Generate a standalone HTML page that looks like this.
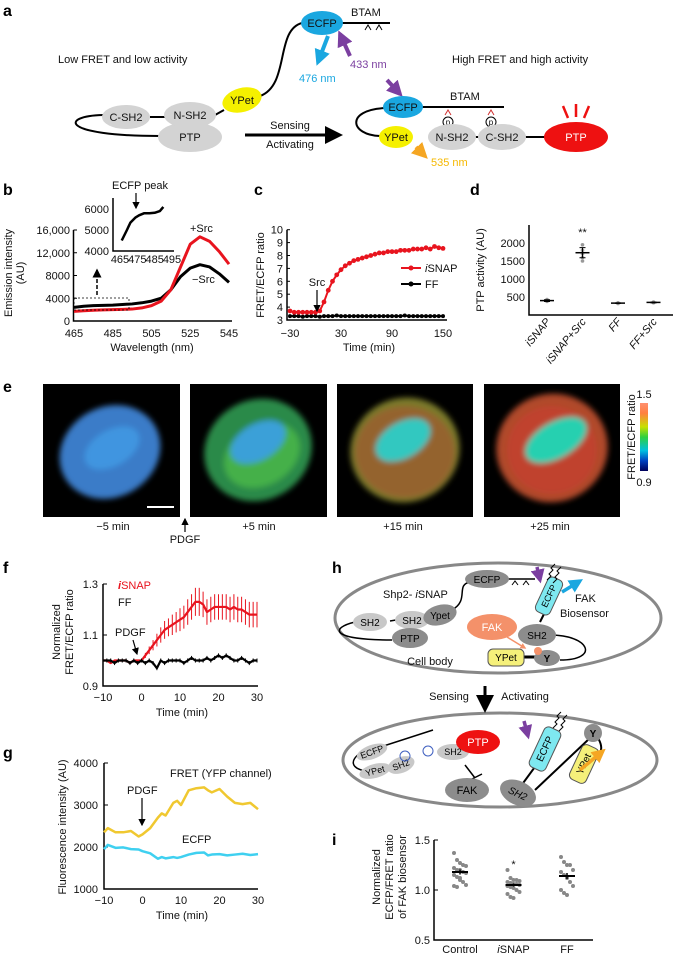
<!DOCTYPE html>
<html><head><meta charset="utf-8"><style>
html,body{margin:0;padding:0;background:#fff;}
svg{display:block;font-family:"Liberation Sans",Arial,sans-serif;}
.pl{font-weight:bold;font-size:16px;}
.t{font-size:11px;fill:#111;}
.ax{stroke:#000;stroke-width:1.5;fill:none;}
</style></head><body>
<svg id="fig" width="675" height="954" viewBox="0 0 675 954" xmlns="http://www.w3.org/2000/svg">
<defs>
<marker id="ah" markerWidth="6" markerHeight="6" refX="5" refY="3" orient="auto"><path d="M0,0 L6,3 L0,6 z" fill="#000"/></marker>
<marker id="ahc" markerWidth="4" markerHeight="4" refX="3" refY="2" orient="auto"><path d="M0,0 L4,2 L0,4 z" fill="#1aa7e0"/></marker>
<marker id="ahp" markerWidth="4" markerHeight="4" refX="3" refY="2" orient="auto"><path d="M0,0 L4,2 L0,4 z" fill="#7b3fa0"/></marker>
<marker id="aho" markerWidth="4" markerHeight="4" refX="3" refY="2" orient="auto"><path d="M0,0 L4,2 L0,4 z" fill="#f5a623"/></marker>
<marker id="ahs" markerWidth="4" markerHeight="4" refX="3" refY="2" orient="auto"><path d="M0,0 L4,2 L0,4 z" fill="#f4916a"/></marker>
<filter id="bl" x="-20%" y="-20%" width="140%" height="140%"><feGaussianBlur stdDeviation="3"/></filter>
<linearGradient id="cbar" x1="0" y1="1" x2="0" y2="0">
<stop offset="0" stop-color="#00005a"/><stop offset="0.15" stop-color="#0040c0"/><stop offset="0.3" stop-color="#00c0e0"/><stop offset="0.5" stop-color="#30d040"/><stop offset="0.65" stop-color="#c8e000"/><stop offset="0.85" stop-color="#ff8040"/><stop offset="1" stop-color="#ff9070"/>
</linearGradient>
</defs>

<!-- Panel a -->
<g>
<text class="pl" x="3" y="16">a</text>
<text class="t" x="58" y="63" font-size="11">Low FRET and low activity</text>
<text class="t" x="452" y="63">High FRET and high activity</text>
<path d="M103,115 C60,116 60,136 160,136" fill="none" stroke="#000" stroke-width="2"/>
<line x1="150" y1="117" x2="166" y2="117" stroke="#000" stroke-width="2"/>
<line x1="215" y1="115" x2="224" y2="110" stroke="#000" stroke-width="2"/>
<path d="M260,96 C290,85 275,30 302,23" fill="none" stroke="#000" stroke-width="2"/>
<ellipse cx="126" cy="117" rx="24" ry="12" fill="#d3d3d3"/>
<text class="t" x="126" y="121" text-anchor="middle">C-SH2</text>
<ellipse cx="190" cy="137" rx="32" ry="15" fill="#d3d3d3"/>
<text class="t" x="190" y="141" text-anchor="middle">PTP</text>
<ellipse cx="190" cy="115" rx="26" ry="13" fill="#d3d3d3"/>
<text class="t" x="190" y="119" text-anchor="middle">N-SH2</text>
<ellipse cx="242" cy="100" rx="20" ry="12" fill="#f5f000" transform="rotate(-15 242 100)"/>
<text class="t" x="242" y="104" text-anchor="middle">YPet</text>
<line x1="335" y1="23" x2="390" y2="23" stroke="#000" stroke-width="2"/>
<ellipse cx="322" cy="23" rx="21" ry="12" fill="#1aa7e0"/>
<text class="t" x="322" y="27" text-anchor="middle">ECFP</text>
<text class="t" x="351" y="16">BTAM</text>
<path d="M365,30 L368,25 L371,30 M376,30 L379,25 L382,30" stroke="#000" fill="none"/>
<line x1="328" y1="36" x2="318" y2="62" stroke="#1aa7e0" stroke-width="4" marker-end="url(#ahc)"/>
<text x="299" y="82" font-size="11" fill="#1aa7e0">476 nm</text>
<line x1="350" y1="56" x2="340" y2="34" stroke="#7b3fa0" stroke-width="4" marker-end="url(#ahp)"/>
<text x="350" y="68" font-size="11" fill="#7b3fa0">433 nm</text>
<line x1="387" y1="80" x2="400" y2="94" stroke="#7b3fa0" stroke-width="4" marker-end="url(#ahp)"/>
<line x1="245" y1="135" x2="340" y2="135" stroke="#000" stroke-width="3" marker-end="url(#ah)"/>
<text class="t" x="290" y="129" text-anchor="middle">Sensing</text>
<text class="t" x="290" y="148" text-anchor="middle">Activating</text>
<path d="M385,108 C345,110 350,135 380,136" fill="none" stroke="#000" stroke-width="2"/>
<line x1="420" y1="107" x2="504" y2="107" stroke="#000" stroke-width="2"/>
<ellipse cx="403" cy="107" rx="20" ry="11" fill="#1aa7e0"/>
<text class="t" x="403" y="111" text-anchor="middle">ECFP</text>
<text class="t" x="450" y="100">BTAM</text>
<path d="M445,115 L448,110 L451,115 M488,115 L491,110 L494,115" stroke="#d03030" fill="none"/>
<circle cx="448" cy="122" r="5" fill="#fff" stroke="#000"/><text x="448" y="125" font-size="8" text-anchor="middle">p</text>
<circle cx="491" cy="122" r="5" fill="#fff" stroke="#000"/><text x="491" y="125" font-size="8" text-anchor="middle">p</text>
<line x1="470" y1="137" x2="480" y2="137" stroke="#000" stroke-width="2"/>
<line x1="525" y1="137" x2="545" y2="137" stroke="#000" stroke-width="2"/>
<ellipse cx="452" cy="137" rx="24" ry="13" fill="#d3d3d3"/>
<text class="t" x="452" y="141" text-anchor="middle">N-SH2</text>
<ellipse cx="502" cy="137" rx="24" ry="13" fill="#d3d3d3"/>
<text class="t" x="502" y="141" text-anchor="middle">C-SH2</text>
<ellipse cx="396" cy="137" rx="17" ry="11" fill="#f5f000"/>
<text class="t" x="396" y="141" text-anchor="middle">YPet</text>
<ellipse cx="576" cy="137" rx="32" ry="15" fill="#ee1111"/>
<text x="576" y="141" font-size="11" fill="#fff" text-anchor="middle">PTP</text>
<path d="M568,118 L563,106 M576,117 L576,104 M584,118 L589,106" stroke="#ee1111" stroke-width="2.5"/>
<line x1="416" y1="147" x2="425" y2="156" stroke="#f5a623" stroke-width="4" marker-end="url(#aho)"/>
<text x="431" y="166" font-size="11" fill="#f5b800">535 nm</text>
</g>

<text class="pl" x="3" y="195">b</text>
<text class="pl" x="254" y="195">c</text>
<text class="pl" x="470" y="195">d</text>
<text class="pl" x="3" y="392">e</text>
<text class="pl" x="3" y="573">f</text>
<text class="pl" x="3" y="758">g</text>
<text class="pl" x="332" y="573">h</text>
<text class="pl" x="332" y="845">i</text>

<g id="pb"></g>
<g id="pc"></g>
<g id="pd"></g>

<!-- Panel e -->
<g>
<rect x="43" y="384" width="137" height="133" fill="#000"/>
<rect x="190" y="384" width="137" height="133" fill="#000"/>
<rect x="337" y="384" width="136" height="133" fill="#000"/>
<rect x="484" y="384" width="136" height="133" fill="#000"/>
<g filter="url(#bl)">
<ellipse cx="110" cy="452" rx="52" ry="45" fill="#3b7bc8" transform="rotate(-30 110 452)"/>
<ellipse cx="112" cy="448" rx="30" ry="18" fill="#3f95e0" transform="rotate(-30 112 448)"/>
<ellipse cx="258" cy="450" rx="55" ry="50" fill="#2c8a4a" transform="rotate(-30 258 450)"/>
<ellipse cx="262" cy="455" rx="40" ry="30" fill="#44b04a" transform="rotate(-30 262 455)"/>
<ellipse cx="258" cy="442" rx="30" ry="18" fill="#3aa0d8" transform="rotate(-30 258 442)"/>
<ellipse cx="405" cy="450" rx="55" ry="52" fill="#7a7a2a" transform="rotate(-20 405 450)"/>
<ellipse cx="405" cy="452" rx="50" ry="46" fill="#a05a30" opacity="0.7"/>
<ellipse cx="403" cy="440" rx="30" ry="18" fill="#30c8c0" transform="rotate(-30 403 440)"/>
<ellipse cx="552" cy="448" rx="56" ry="54" fill="#b04a2a" transform="rotate(-20 552 448)"/>
<ellipse cx="552" cy="450" rx="45" ry="44" fill="#c84030" opacity="0.7"/>
<ellipse cx="556" cy="440" rx="34" ry="18" fill="#28d0b0" transform="rotate(-30 556 440)"/>
</g>
<rect x="147" y="506" width="27" height="2" fill="#fff"/>
<text class="t" x="113" y="530" text-anchor="middle">−5 min</text>
<text class="t" x="259" y="530" text-anchor="middle">+5 min</text>
<text class="t" x="403" y="530" text-anchor="middle">+15 min</text>
<text class="t" x="550" y="530" text-anchor="middle">+25 min</text>
<line x1="185" y1="532" x2="185" y2="519" stroke="#000" stroke-width="1.2" marker-end="url(#ah)"/>
<text class="t" x="185" y="543" text-anchor="middle">PDGF</text>
<rect x="640" y="403" width="8" height="68" fill="url(#cbar)"/>
<text class="t" x="644" y="398" text-anchor="middle">1.5</text>
<text class="t" x="644" y="486" text-anchor="middle">0.9</text>
<text class="t" transform="translate(635 437) rotate(-90)" text-anchor="middle">FRET/ECFP  ratio</text>
</g>

<g id="pf"></g>
<g id="pg"></g>

<!-- Panel h -->
<g>
<ellipse cx="498" cy="618" rx="163" ry="55" fill="#fff" stroke="#888" stroke-width="3"/>
<ellipse cx="500" cy="760" rx="157" ry="47" fill="#fff" stroke="#888" stroke-width="3"/>
<text class="t" x="383" y="598">Shp2- <tspan font-style="italic">i</tspan>SNAP</text>
<path d="M355,622 C330,628 330,640 392,640" fill="none" stroke="#000" stroke-width="1.5"/>
<path d="M452,610 C470,600 455,585 470,582" fill="none" stroke="#000" stroke-width="1.5"/>
<line x1="390" y1="621" x2="396" y2="620" stroke="#000" stroke-width="1.5"/>
<ellipse cx="370" cy="622" rx="17" ry="9" fill="#c8c8c8"/><text x="370" y="626" font-size="10" text-anchor="middle">SH2</text>
<ellipse cx="412" cy="620" rx="17" ry="9" fill="#c8c8c8"/><text x="412" y="624" font-size="10" text-anchor="middle">SH2</text>
<ellipse cx="440" cy="615" rx="17" ry="10" fill="#8c8c8c" transform="rotate(-15 440 615)"/><text x="440" y="619" font-size="10" text-anchor="middle">Ypet</text>
<ellipse cx="410" cy="638" rx="18" ry="10" fill="#8c8c8c"/><text x="410" y="642" font-size="10" text-anchor="middle">PTP</text>
<line x1="505" y1="579" x2="535" y2="579" stroke="#000" stroke-width="1.5"/>
<path d="M512,585 L515,581 L518,585 M523,585 L526,581 L529,585" stroke="#000" fill="none"/>
<ellipse cx="487" cy="579" rx="22" ry="9" fill="#8c8c8c"/><text x="487" y="583" font-size="10" text-anchor="middle">ECFP</text>
<path d="M550,635 C590,635 600,660 560,660" fill="none" stroke="#000" stroke-width="1.5"/>
<line x1="524" y1="657" x2="540" y2="657" stroke="#000" stroke-width="3"/>
<line x1="540" y1="622" x2="545" y2="612" stroke="#000" stroke-width="2"/>
<rect x="530" y="588" width="38" height="16" rx="5" fill="#7ee8f0" stroke="#555" transform="rotate(-65 549 596)"/>
<text x="549" y="599" font-size="9" text-anchor="middle" transform="rotate(-65 549 596)">ECFP</text>
<path d="M547,580 l4,-4 l-2,-2 l4,-4 l-2,-2 l4,-4 M553,583 l4,-4 l-2,-2 l4,-4 l-2,-2 l4,-4" stroke="#000" fill="none"/>
<line x1="537" y1="567" x2="540" y2="580" stroke="#7b3fa0" stroke-width="3.5" marker-end="url(#ahp)"/>
<line x1="562" y1="592" x2="580" y2="581" stroke="#1aa7e0" stroke-width="3.5" marker-end="url(#ahc)"/>
<text class="t" x="575" y="602">FAK</text>
<text class="t" x="560" y="617">Biosensor</text>
<ellipse cx="492" cy="627" rx="25" ry="13" fill="#f4916a"/><text x="492" y="631" font-size="11" fill="#fff" text-anchor="middle">FAK</text>
<line x1="507" y1="637" x2="525" y2="648" stroke="#f4916a" stroke-width="1.5" marker-end="url(#ahs)"/>
<ellipse cx="537" cy="635" rx="19" ry="11" fill="#8c8c8c"/><text x="537" y="639" font-size="10" text-anchor="middle">SH2</text>
<ellipse cx="547" cy="658" rx="13" ry="8" fill="#8c8c8c"/><text x="547" y="662" font-size="10" font-weight="bold" text-anchor="middle">Y</text>
<circle cx="538" cy="651" r="4" fill="#f4916a"/>
<rect x="488" y="649" width="36" height="17" rx="5" fill="#f5f07a" stroke="#555"/><text x="506" y="661" font-size="10" text-anchor="middle">YPet</text>
<text class="t" x="430" y="665" text-anchor="middle">Cell body</text>
<text class="t" x="449" y="700" text-anchor="middle">Sensing</text>
<text class="t" x="525" y="700" text-anchor="middle">Activating</text>
<line x1="485" y1="686" x2="485" y2="710" stroke="#000" stroke-width="3" marker-end="url(#ah)"/>
<path d="M370,747 C345,760 350,770 372,772" fill="none" stroke="#000" stroke-width="1.5"/>
<line x1="365" y1="752" x2="433" y2="730" stroke="#000" stroke-width="1.5"/>
<ellipse cx="372" cy="752" rx="16" ry="7" fill="#c8c8c8" transform="rotate(-20 372 752)"/><text x="372" y="755" font-size="9" text-anchor="middle" transform="rotate(-20 372 752)">ECFP</text>
<ellipse cx="375" cy="771" rx="16" ry="7" fill="#c8c8c8" transform="rotate(-15 375 771)"/><text x="375" y="774" font-size="9" text-anchor="middle" transform="rotate(-15 375 771)">YPet</text>
<ellipse cx="401" cy="765" rx="14" ry="8" fill="#c8c8c8" transform="rotate(-20 401 765)"/><text x="401" y="768" font-size="9" text-anchor="middle" transform="rotate(-20 401 765)">SH2</text>
<ellipse cx="453" cy="752" rx="16" ry="8" fill="#c8c8c8"/><text x="453" y="755" font-size="9" text-anchor="middle">SH2</text>
<circle cx="405" cy="756" r="5" fill="none" stroke="#4060c0"/><circle cx="428" cy="751" r="5" fill="none" stroke="#4060c0"/>
<ellipse cx="478" cy="742" rx="22" ry="12" fill="#ee1111"/><text x="478" y="746" font-size="11" fill="#fff" text-anchor="middle">PTP</text>
<path d="M465,765 L475,778 M468,781 L482,774" stroke="#000" stroke-width="1.5" fill="none"/>
<ellipse cx="467" cy="790" rx="22" ry="12" fill="#8c8c8c"/><text x="467" y="794" font-size="11" text-anchor="middle">FAK</text>
<line x1="518" y1="790" x2="540" y2="760" stroke="#000" stroke-width="2"/>
<line x1="535" y1="790" x2="590" y2="738" stroke="#000" stroke-width="2"/>
<path d="M598,738 C605,750 600,755 590,762" fill="none" stroke="#000" stroke-width="2"/>
<rect x="523" y="740" width="44" height="18" rx="5" fill="#7ee8f0" stroke="#555" transform="rotate(-65 545 749)"/>
<text x="545" y="752" font-size="10" text-anchor="middle" transform="rotate(-65 545 749)">ECFP</text>
<path d="M553,728 l4,-4 l-2,-2 l4,-4 l-2,-2 l4,-4 M559,731 l4,-4 l-2,-2 l4,-4 l-2,-2 l4,-4" stroke="#000" fill="none"/>
<line x1="524" y1="721" x2="528" y2="736" stroke="#7b3fa0" stroke-width="3.5" marker-end="url(#ahp)"/>
<ellipse cx="518" cy="793" rx="19" ry="12" fill="#8c8c8c" transform="rotate(25 518 793)"/><text x="518" y="797" font-size="10" font-style="italic" text-anchor="middle" transform="rotate(25 518 793)">SH2</text>
<circle cx="593" cy="733" r="9" fill="#8c8c8c"/><text x="593" y="737" font-size="10" font-weight="bold" text-anchor="middle">Y</text>
<rect x="565" y="755" width="38" height="18" rx="5" fill="#f5f07a" stroke="#555" transform="rotate(-65 584 764)"/>
<text x="584" y="767" font-size="10" text-anchor="middle" transform="rotate(-65 584 764)">YPet</text>
<line x1="580" y1="770" x2="603" y2="751" stroke="#f5a623" stroke-width="3.5" marker-end="url(#aho)"/>
</g>

<g id="pi"></g>

<script>
const NS='http://www.w3.org/2000/svg';
function mk(parent,tag,attrs,text){const e=document.createElementNS(NS,tag);for(const k in attrs)e.setAttribute(k,attrs[k]);if(text!==undefined)e.textContent=text;parent.appendChild(e);return e;}
function poly(parent,xs,ys,fx,fy,stroke,w){return mk(parent,'polyline',{points:xs.map((x,i)=>fx(x)+','+fy(ys[i])).join(' '),fill:'none',stroke:stroke,'stroke-width':w,'stroke-linejoin':'round'});}

/* ---------- Panel b data ---------- */
const bWavelength=[465,470,475,480,485,490,495,500,505,510,515,520,525,530,535,540,545];
const bPlusSrc=[1700,1800,1900,1950,2000,2050,2100,2300,2700,3500,5500,9500,13500,14800,14000,12200,10000];
const bMinusSrc=[2400,2600,2700,2750,2800,2900,3000,3200,3500,4000,5500,7800,9300,9900,9500,8300,6800];
const bYTicks=[0,4000,8000,12000,16000];
const bYTickLabels=['0','4000','8000','12,000','16,000'];
const bXTicks=[465,485,505,525,545];
const bInsetWl=[466,469,471,474,476,479,482,485,488,490];
const bInsetVal=[4500,5000,5350,5600,5700,5800,5800,5820,5900,6100];
const bInsetXTicks=[465,475,485,495];
const bInsetYTicks=[4000,5000,6000];

/* ---------- Panel c data ---------- */
const cTime=[-30,-25,-20,-15,-10,-5,0,5,10,15,20,25,30,35,40,45,50,55,60,65,70,75,80,85,90,95,100,105,110,115,120,125,130,135,140,145,150];
const cISNAP=[3.7,3.6,3.6,3.6,3.6,3.6,3.6,3.7,4.4,5.3,6.0,6.5,6.9,7.2,7.4,7.6,7.7,7.8,7.9,8.0,8.1,8.2,8.2,8.3,8.3,8.3,8.4,8.4,8.4,8.5,8.5,8.5,8.6,8.5,8.7,8.6,8.55];
const cFF=[3.3,3.3,3.3,3.25,3.3,3.3,3.3,3.25,3.3,3.3,3.3,3.35,3.3,3.3,3.3,3.3,3.3,3.3,3.3,3.3,3.3,3.3,3.3,3.3,3.3,3.3,3.3,3.35,3.3,3.3,3.3,3.3,3.3,3.3,3.3,3.3,3.3];
const cYTicks=[3,4,5,6,7,8,9,10];
const cXTicks=[-30,30,90,150];

/* ---------- Panel d data ---------- */
const dCats=['iSNAP','iSNAP+Src','FF','FF+Src'];
const dMeans=[400,1730,330,350];
const dSem=[25,140,8,12];
const dPoints=[[380,400,420,430],[1500,1600,1700,1800,1950],[320,330,340],[340,350,360]];
const dYTicks=[500,1000,1500,2000];

/* ---------- Panel f data ---------- */
const fTime=[-10,-9,-8,-7,-6,-5,-4,-3,-2,-1,0,1,2,3,4,5,6,7,8,9,10,11,12,13,14,15,16,17,18,19,20,21,22,23,24,25,26,27,28,29,30];
const fISNAP=[1.0,1.0,0.99,1.0,1.0,1.0,1.0,0.99,1.0,1.0,1.0,1.02,1.04,1.06,1.08,1.10,1.12,1.13,1.14,1.15,1.16,1.17,1.19,1.21,1.23,1.23,1.22,1.19,1.2,1.21,1.21,1.21,1.21,1.2,1.21,1.2,1.2,1.19,1.18,1.18,1.18];
const fISNAPErr=[0,0,0,0,0,0,0,0,0,0,0,0.01,0.015,0.02,0.025,0.03,0.035,0.035,0.04,0.04,0.045,0.045,0.05,0.05,0.055,0.055,0.05,0.05,0.05,0.05,0.05,0.05,0.05,0.05,0.05,0.05,0.05,0.05,0.05,0.05,0.05];
const fFF=[1.0,1.0,1.0,0.99,1.0,1.0,1.0,0.99,1.0,0.99,1.0,0.99,1.0,0.99,0.97,1.0,0.99,1.0,1.0,1.0,1.0,0.99,1.0,1.01,1.0,1.0,1.0,1.01,1.0,1.01,1.02,1.01,1.02,1.01,1.0,1.0,1.01,1.0,0.99,1.0,1.0];
const fYTicks=[0.9,1.1,1.3];
const fXTicks=[-10,0,10,20,30];

/* ---------- Panel g data ---------- */
const gTime=[-10,-9,-7,-5,-3,-1,0,2,4,5,6,8,9,10,12,14,16,17,18,20,22,24,26,28,30];
const gFRET=[2350,2450,2350,2350,2380,2250,2300,2450,2700,2800,2750,3050,3100,3000,3350,3400,3420,3350,3300,3380,3200,3050,3020,3050,2900];
const gECFP=[1950,2050,1980,1990,1950,1940,1900,1850,1720,1760,1730,1760,1740,1760,1820,1860,1870,1800,1820,1830,1800,1820,1840,1810,1830];
const gYTicks=[1000,2000,3000,4000];
const gXTicks=[-10,0,10,20,30];

/* ---------- Panel i data ---------- */
const iCats=['Control','iSNAP','FF'];
const iMeans=[1.18,1.05,1.14];
const iSem=[0.025,0.015,0.03];
const iPoints=[[1.37,1.3,1.27,1.25,1.24,1.22,1.2,1.2,1.18,1.17,1.15,1.13,1.1,1.08,1.05,1.04,1.03,1.12],
[1.2,1.12,1.1,1.1,1.09,1.08,1.07,1.06,1.06,1.05,1.04,1.03,1.02,1.0,0.98,0.96,0.93,0.92],
[1.33,1.28,1.25,1.25,1.2,1.18,1.15,1.12,1.08,1.04,1.0,0.97,0.95]];
const iYTicks=[0.5,1.0,1.5];

/* ===== draw b ===== */
(function(){
const g=document.getElementById('pb');
const x=w=>74+(w-465)*155/80, y=v=>321-v*91/16000;
mk(g,'path',{d:`M73.5,${y(16000)} V321 H232`,class:'ax'});
bYTicks.forEach((v,i)=>{mk(g,'line',{x1:73.5,x2:77,y1:y(v),y2:y(v),stroke:'#000'});
const t=mk(g,'text',{x:70,y:y(v)+4,class:'t','text-anchor':'end'},bYTickLabels[i]);

});
bXTicks.forEach(v=>{const t=mk(g,'text',{x:x(v),y:337,class:'t','text-anchor':'middle'},String(v));

});
const xt=mk(g,'text',{x:152,y:351,class:'t','text-anchor':'middle'},'Wavelength (nm)');


const yt=mk(g,'text',{transform:'translate(12 273) rotate(-90)',class:'t','text-anchor':'middle'},'Emission intensity');


mk(g,'text',{transform:'translate(24 273) rotate(-90)',class:'t','text-anchor':'middle'},'(AU)');
const l1=poly(g,bWavelength,bMinusSrc,x,y,'#000',3);


const l2=poly(g,bWavelength,bPlusSrc,x,y,'#e8141e',3);


mk(g,'text',{x:190,y:232,class:'t'},'+Src');
mk(g,'text',{x:192,y:283,class:'t'},'−Src');
mk(g,'rect',{x:74,y:298,width:55,height:12,fill:'none',stroke:'#000','stroke-dasharray':'2,2','stroke-width':0.8});
mk(g,'line',{x1:97,y1:295,x2:97,y2:270,stroke:'#000','stroke-width':1.5,'stroke-dasharray':'4,2','marker-end':'url(#ah)'});
const ix=w=>120+(w-465)*52/30, iy=v=>251-(v-4000)*21/1000;
mk(g,'path',{d:'M113,198 V251 H174',class:'ax','stroke-width':1.2});
bInsetYTicks.forEach(v=>{const t=mk(g,'text',{x:109,y:iy(v)+4,class:'t','text-anchor':'end','font-size':10},String(v));

});
bInsetXTicks.forEach(v=>{const t=mk(g,'text',{x:ix(v),y:263,class:'t','text-anchor':'middle','font-size':8.5},String(v));

});
const il=poly(g,bInsetWl,bInsetVal,ix,iy,'#000',2.5);


mk(g,'text',{x:112,y:189,class:'t'},'ECFP peak');
mk(g,'line',{x1:136,y1:193,x2:136,y2:208,stroke:'#000','stroke-width':1.2,'marker-end':'url(#ah)'});
})();

/* ===== draw c ===== */
(function(){
const g=document.getElementById('pc');
const x=t=>290+(t+30)*153/180, y=v=>320-(v-3)*12.9;
mk(g,'path',{d:`M287,${y(10)} V320 H447`,class:'ax'});
cYTicks.forEach(v=>{mk(g,'line',{x1:287,x2:290,y1:y(v),y2:y(v),stroke:'#000'});
const t=mk(g,'text',{x:283,y:y(v)+4,class:'t','text-anchor':'end'},String(v));

});
cXTicks.forEach(v=>{const t=mk(g,'text',{x:x(v),y:337,class:'t','text-anchor':'middle'},v<0?'−'+(-v):String(v));

});
const xt=mk(g,'text',{x:369,y:351,class:'t','text-anchor':'middle'},'Time (min)');


const yt=mk(g,'text',{transform:'translate(264 275) rotate(-90)',class:'t','text-anchor':'middle'},'FRET/ECFP ratio');


const lf=poly(g,cTime,cFF,x,y,'#000',2);


cTime.forEach((t,i)=>{const p=mk(g,'circle',{cx:x(t),cy:y(cFF[i]),r:2,fill:'#000'});

});
const li=poly(g,cTime,cISNAP,x,y,'#e8141e',2);


cTime.forEach((t,i)=>{const p=mk(g,'circle',{cx:x(t),cy:y(cISNAP[i]),r:2.4,fill:'#e8141e'});

});
mk(g,'line',{x1:401,x2:421,y1:268,y2:268,stroke:'#e8141e','stroke-width':2});
mk(g,'circle',{cx:411,cy:268,r:2.5,fill:'#e8141e'});
const t1=mk(g,'text',{x:425,y:272,class:'t'});


mk(t1,'tspan',{'font-style':'italic'},'i');mk(t1,'tspan',{},'SNAP');
mk(g,'line',{x1:401,x2:421,y1:284,y2:284,stroke:'#000','stroke-width':2});
mk(g,'circle',{cx:411,cy:284,r:2.5,fill:'#000'});
const t2=mk(g,'text',{x:425,y:288,class:'t'},'FF');


mk(g,'text',{x:317,y:286,class:'t','text-anchor':'middle'},'Src');
mk(g,'line',{x1:317,y1:290,x2:317,y2:311,stroke:'#000','stroke-width':1.2,'marker-end':'url(#ah)'});
})();

/* ===== draw d ===== */
(function(){
const g=document.getElementById('pd');
const y=v=>315-v*18/500, x=i=>547+i*35.5;
mk(g,'path',{d:'M529,225 V315 H673',class:'ax'});
dYTicks.forEach(v=>{const t=mk(g,'text',{x:525,y:y(v)+4,class:'t','text-anchor':'end'},String(v));

});
const yt=mk(g,'text',{transform:'translate(484 270) rotate(-90)',class:'t','text-anchor':'middle'},'PTP activity (AU)');


dCats.forEach((c,i)=>{
dPoints[i].forEach(v=>{const p=mk(g,'circle',{cx:x(i),cy:y(v),r:1.8,fill:'#999'});

});
const m=mk(g,'line',{x1:x(i)-7,x2:x(i)+7,y1:y(dMeans[i]),y2:y(dMeans[i]),stroke:'#000','stroke-width':1.5});


mk(g,'path',{d:`M${x(i)},${y(dMeans[i]+dSem[i])} V${y(dMeans[i]-dSem[i])} M${x(i)-3},${y(dMeans[i]+dSem[i])} h6 M${x(i)-3},${y(dMeans[i]-dSem[i])} h6`,stroke:'#000',fill:'none'});
const t=mk(g,'text',{transform:`translate(${x(i)+4} 322) rotate(-50)`,class:'t','text-anchor':'end'});


mk(t,'tspan',{'font-style':'italic'},c);
});
mk(g,'text',{x:x(1),y:236,class:'t','text-anchor':'middle'},'**');
})();

/* ===== draw f ===== */
(function(){
const g=document.getElementById('pf');
const x=t=>103+(t+10)*154/40, y=v=>686-(v-0.9)*255;
mk(g,'path',{d:'M103,584 V686 H258',class:'ax'});
fYTicks.forEach(v=>{mk(g,'line',{x1:103,x2:107,y1:y(v),y2:y(v),stroke:'#000'});
const t=mk(g,'text',{x:98,y:y(v)+4,class:'t','text-anchor':'end'},v.toFixed(1));

});
fXTicks.forEach(v=>{const t=mk(g,'text',{x:x(v),y:701,class:'t','text-anchor':'middle'},v<0?'−'+(-v):String(v));

});
const xt=mk(g,'text',{x:182,y:716,class:'t','text-anchor':'middle'},'Time (min)');


const yt=mk(g,'text',{transform:'translate(60 632) rotate(-90)',class:'t','text-anchor':'middle'},'Normalized');


mk(g,'text',{transform:'translate(73 632) rotate(-90)',class:'t','text-anchor':'middle'},'FRET/ECFP ratio');
fTime.forEach((t,i)=>{if(fISNAPErr[i]>0){const e=mk(g,'line',{x1:x(t),x2:x(t),y1:y(fISNAP[i]+fISNAPErr[i]),y2:y(fISNAP[i]-fISNAPErr[i]),stroke:'#e8141e','stroke-width':1});

}});
const li=poly(g,fTime,fISNAP,x,y,'#e8141e',2.2);


const lf=poly(g,fTime,fFF,x,y,'#000',2.2);


fTime.forEach((t,i)=>{mk(g,'line',{x1:x(t),x2:x(t),y1:y(fFF[i]+0.008),y2:y(fFF[i]-0.008),stroke:'#000'});});
const t1=mk(g,'text',{x:118,y:589,'font-size':11,fill:'#e8141e'});


mk(t1,'tspan',{'font-style':'italic','font-weight':'bold'},'i');mk(t1,'tspan',{},'SNAP');
const t2=mk(g,'text',{x:118,y:606,class:'t'},'FF');


mk(g,'text',{x:115,y:636,class:'t'},'PDGF');
mk(g,'line',{x1:133,y1:640,x2:137,y2:654,stroke:'#000','stroke-width':1.2,'marker-end':'url(#ah)'});
})();

/* ===== draw g ===== */
(function(){
const g=document.getElementById('pg');
const x=t=>104+(t+10)*154/40, y=v=>889-(v-1000)*126/3000;
mk(g,'path',{d:'M104,763 V889 H258',class:'ax'});
gYTicks.forEach(v=>{mk(g,'line',{x1:104,x2:108,y1:y(v),y2:y(v),stroke:'#000'});
const t=mk(g,'text',{x:98,y:y(v)+4,class:'t','text-anchor':'end'},String(v));

});
gXTicks.forEach(v=>{const t=mk(g,'text',{x:x(v),y:904,class:'t','text-anchor':'middle'},v<0?'−'+(-v):String(v));

});
const xt=mk(g,'text',{x:182,y:919,class:'t','text-anchor':'middle'},'Time (min)');


const yt=mk(g,'text',{transform:'translate(66 827) rotate(-90)',class:'t','text-anchor':'middle'},'Fluorescence intensity (AU)');


const l1=poly(g,gTime,gFRET,x,y,'#f0c830',2.5);


const l2=poly(g,gTime,gECFP,x,y,'#3fd0f0',2.5);


mk(g,'text',{x:170,y:777,class:'t'},'FRET (YFP channel)');
mk(g,'text',{x:127,y:794,class:'t'},'PDGF');
mk(g,'line',{x1:142,y1:798,x2:142,y2:825,stroke:'#000','stroke-width':1.2,'marker-end':'url(#ah)'});
mk(g,'text',{x:182,y:843,class:'t'},'ECFP');
})();

/* ===== draw i ===== */
(function(){
const g=document.getElementById('pi');
const y=v=>890-(v-1.0)*100, x=i=>460+i*53.5;
mk(g,'path',{d:'M434,840 V940 H593',class:'ax'});
iYTicks.forEach(v=>{mk(g,'line',{x1:434,x2:438,y1:y(v),y2:y(v),stroke:'#000'});
const t=mk(g,'text',{x:430,y:y(v)+4,class:'t','text-anchor':'end'},v.toFixed(1));

});
['Normalized','ECFP/FRET ratio','of FAK biosensor'].forEach((s,k)=>{const t=mk(g,'text',{transform:`translate(${380+k*13} 877) rotate(-90)`,class:'t','text-anchor':'middle'},s);

});
iCats.forEach((c,i)=>{
iPoints[i].forEach((v,k)=>{const p=mk(g,'circle',{cx:x(i)+((k%5)-2)*3,cy:y(v),r:2,fill:'#888'});

});
const m=mk(g,'line',{x1:x(i)-8,x2:x(i)+8,y1:y(iMeans[i]),y2:y(iMeans[i]),stroke:'#000','stroke-width':2});


mk(g,'line',{x1:x(i),x2:x(i),y1:y(iMeans[i]+iSem[i]),y2:y(iMeans[i]-iSem[i]),stroke:'#000','stroke-width':1.5});
const t=mk(g,'text',{x:x(i),y:953,class:'t','text-anchor':'middle'});


if(c==='iSNAP'){mk(t,'tspan',{'font-style':'italic'},'i');mk(t,'tspan',{},'SNAP');}else{t.textContent=c;}
});
mk(g,'text',{x:x(1),y:868,class:'t','text-anchor':'middle'},'*');
})();
</script>
</svg>
</body></html>
